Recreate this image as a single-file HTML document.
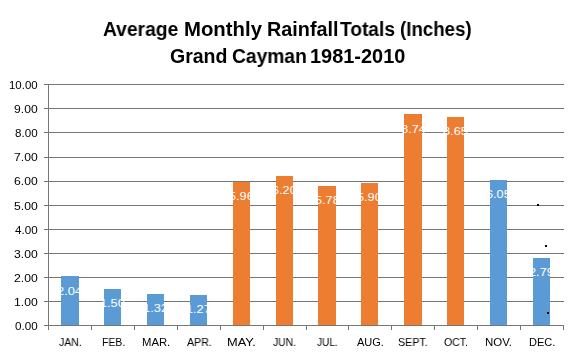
<!DOCTYPE html>
<html><head><meta charset="utf-8"><style>
html,body{margin:0;padding:0;background:#fff;}
body{width:580px;height:360px;position:relative;overflow:hidden;font-family:"Liberation Sans",sans-serif;-webkit-font-smoothing:antialiased;}
svg{position:absolute;left:0;top:0;}
.t{position:absolute;white-space:nowrap;line-height:1;transform-origin:0 0;will-change:transform;}
</style></head><body>
<svg width="580" height="360" shape-rendering="crispEdges"><rect x="44" y="301" width="520" height="1" fill="#767676"/><rect x="44" y="277" width="520" height="1" fill="#767676"/><rect x="44" y="253" width="520" height="1" fill="#767676"/><rect x="44" y="229" width="520" height="1" fill="#767676"/><rect x="44" y="205" width="520" height="1" fill="#767676"/><rect x="44" y="181" width="520" height="1" fill="#767676"/><rect x="44" y="157" width="520" height="1" fill="#767676"/><rect x="44" y="132" width="520" height="1" fill="#767676"/><rect x="44" y="108" width="520" height="1" fill="#767676"/><rect x="44" y="84" width="520" height="1" fill="#767676"/><rect x="61" y="276" width="18" height="49" fill="#5B9BD5"/><rect x="104" y="289" width="17" height="36" fill="#5B9BD5"/><rect x="147" y="294" width="17" height="31" fill="#5B9BD5"/><rect x="190" y="295" width="17" height="30" fill="#5B9BD5"/><rect x="233" y="182" width="17" height="143" fill="#ED7D31"/><rect x="276" y="176" width="17" height="149" fill="#ED7D31"/><rect x="318" y="186" width="18" height="139" fill="#ED7D31"/><rect x="361" y="183" width="17" height="142" fill="#ED7D31"/><rect x="404" y="114" width="18" height="211" fill="#ED7D31"/><rect x="447" y="117" width="17" height="208" fill="#ED7D31"/><rect x="490" y="180" width="17" height="145" fill="#5B9BD5"/><rect x="533" y="258" width="17" height="67" fill="#5B9BD5"/><rect x="44" y="325" width="520" height="1" fill="#767676"/><rect x="48" y="84" width="1" height="246" fill="#767676"/><rect x="91" y="325" width="1" height="5" fill="#767676"/><rect x="134" y="325" width="1" height="5" fill="#767676"/><rect x="177" y="325" width="1" height="5" fill="#767676"/><rect x="220" y="325" width="1" height="5" fill="#767676"/><rect x="263" y="325" width="1" height="5" fill="#767676"/><rect x="306" y="325" width="1" height="5" fill="#767676"/><rect x="348" y="325" width="1" height="5" fill="#767676"/><rect x="391" y="325" width="1" height="5" fill="#767676"/><rect x="434" y="325" width="1" height="5" fill="#767676"/><rect x="477" y="325" width="1" height="5" fill="#767676"/><rect x="520" y="325" width="1" height="5" fill="#767676"/><rect x="563" y="325" width="1" height="5" fill="#767676"/><rect x="537" y="204" width="2" height="2" fill="#000"/><rect x="545" y="245" width="2" height="2" fill="#000"/><rect x="547" y="312" width="2" height="2" fill="#000"/></svg>
<div class="t" style="left:14.86px;top:321.00px;font-size:11px;color:#000;transform:scaleX(1.0572);">0.00</div>
<div class="t" style="left:13.89px;top:297.00px;font-size:11px;color:#000;transform:scaleX(1.1053);">1.00</div>
<div class="t" style="left:13.89px;top:273.00px;font-size:11px;color:#000;transform:scaleX(1.1053);">2.00</div>
<div class="t" style="left:13.89px;top:249.00px;font-size:11px;color:#000;transform:scaleX(1.1053);">3.00</div>
<div class="t" style="left:14.86px;top:225.00px;font-size:11px;color:#000;transform:scaleX(1.0572);">4.00</div>
<div class="t" style="left:13.89px;top:201.00px;font-size:11px;color:#000;transform:scaleX(1.1053);">5.00</div>
<div class="t" style="left:13.89px;top:176.00px;font-size:11px;color:#000;transform:scaleX(1.1053);">6.00</div>
<div class="t" style="left:13.89px;top:152.00px;font-size:11px;color:#000;transform:scaleX(1.1053);">7.00</div>
<div class="t" style="left:14.90px;top:128.00px;font-size:11px;color:#000;transform:scaleX(1.0550);">8.00</div>
<div class="t" style="left:13.89px;top:104.00px;font-size:11px;color:#000;transform:scaleX(1.1053);">9.00</div>
<div class="t" style="left:8.96px;top:80.00px;font-size:11px;color:#000;transform:scaleX(1.0400);">10.00</div>
<div class="t" style="left:59.00px;top:337.00px;font-size:11px;color:#000;transform:scaleX(0.9545);">JAN.</div>
<div class="t" style="left:102.05px;top:337.00px;font-size:11px;color:#000;transform:scaleX(0.9472);">FEB.</div>
<div class="t" style="left:141.97px;top:337.00px;font-size:11px;color:#000;transform:scaleX(1.0263);">MAR.</div>
<div class="t" style="left:187.26px;top:337.00px;font-size:11px;color:#000;transform:scaleX(0.9650);">APR.</div>
<div class="t" style="left:226.84px;top:337.00px;font-size:11px;color:#000;transform:scaleX(1.1643);">MAY.</div>
<div class="t" style="left:273.02px;top:337.00px;font-size:11px;color:#000;transform:scaleX(0.9355);">JUN.</div>
<div class="t" style="left:317.03px;top:337.00px;font-size:11px;color:#000;transform:scaleX(0.9170);">JUL.</div>
<div class="t" style="left:357.00px;top:337.00px;font-size:11px;color:#000;">AUG.</div>
<div class="t" style="left:398.03px;top:337.00px;font-size:11px;color:#000;transform:scaleX(0.9722);">SEPT.</div>
<div class="t" style="left:444.00px;top:337.00px;font-size:11px;color:#000;transform:scaleX(0.9565);">OCT.</div>
<div class="t" style="left:484.96px;top:337.00px;font-size:11px;color:#000;transform:scaleX(1.0435);">NOV.</div>
<div class="t" style="left:529.00px;top:337.00px;font-size:11px;color:#000;transform:scaleX(0.9966);">DEC.</div>
<div class="t" style="left:56.74px;top:286.00px;font-size:11px;color:#fff;transform:scaleX(1.1675);will-change:auto;">2.04</div>
<div class="t" style="left:99.84px;top:298.00px;font-size:11px;color:#fff;transform:scaleX(1.1579);will-change:auto;">1.50</div>
<div class="t" style="left:142.83px;top:303.00px;font-size:11px;color:#fff;transform:scaleX(1.1739);will-change:auto;">1.32</div>
<div class="t" style="left:185.84px;top:304.00px;font-size:11px;color:#fff;transform:scaleX(1.1579);will-change:auto;">1.27</div>
<div class="t" style="left:228.84px;top:191.00px;font-size:11px;color:#fff;transform:scaleX(1.1579);will-change:auto;">5.96</div>
<div class="t" style="left:271.84px;top:185.00px;font-size:11px;color:#fff;transform:scaleX(1.1579);will-change:auto;">6.20</div>
<div class="t" style="left:314.84px;top:195.00px;font-size:11px;color:#fff;transform:scaleX(1.1579);will-change:auto;">5.78</div>
<div class="t" style="left:356.84px;top:192.00px;font-size:11px;color:#fff;transform:scaleX(1.1579);will-change:auto;">5.90</div>
<div class="t" style="left:400.74px;top:124.00px;font-size:11px;color:#fff;transform:scaleX(1.1675);will-change:auto;">8.74</div>
<div class="t" style="left:442.79px;top:126.00px;font-size:11px;color:#fff;transform:scaleX(1.1603);will-change:auto;">8.65</div>
<div class="t" style="left:485.84px;top:189.00px;font-size:11px;color:#fff;transform:scaleX(1.1579);will-change:auto;">6.05</div>
<div class="t" style="left:528.79px;top:267.00px;font-size:11px;color:#fff;transform:scaleX(1.1603);will-change:auto;">2.79</div>
<div class="t" style="left:103.01px;top:20.00px;font-size:19.5px;color:#000;font-weight:bold;transform:scaleX(0.9865);">Average</div>
<div class="t" style="left:183.90px;top:20.00px;font-size:19.5px;color:#000;font-weight:bold;transform:scaleX(1.0430);">Monthly</div>
<div class="t" style="left:266.95px;top:20.00px;font-size:19.5px;color:#000;font-weight:bold;transform:scaleX(1.0154);">Rainfall</div>
<div class="t" style="left:340.00px;top:20.00px;font-size:19.5px;color:#000;font-weight:bold;transform:scaleX(0.9815);">Totals</div>
<div class="t" style="left:400.04px;top:20.00px;font-size:19.5px;color:#000;font-weight:bold;transform:scaleX(0.9579);">(Inches)</div>
<div class="t" style="left:170.00px;top:47.00px;font-size:19.5px;color:#000;font-weight:bold;">Grand</div>
<div class="t" style="left:232.01px;top:47.00px;font-size:19.5px;color:#000;font-weight:bold;transform:scaleX(0.9863);">Cayman</div>
<div class="t" style="left:309.93px;top:47.00px;font-size:19.5px;color:#000;font-weight:bold;transform:scaleX(1.0228);">1981-2010</div>
</body></html>
